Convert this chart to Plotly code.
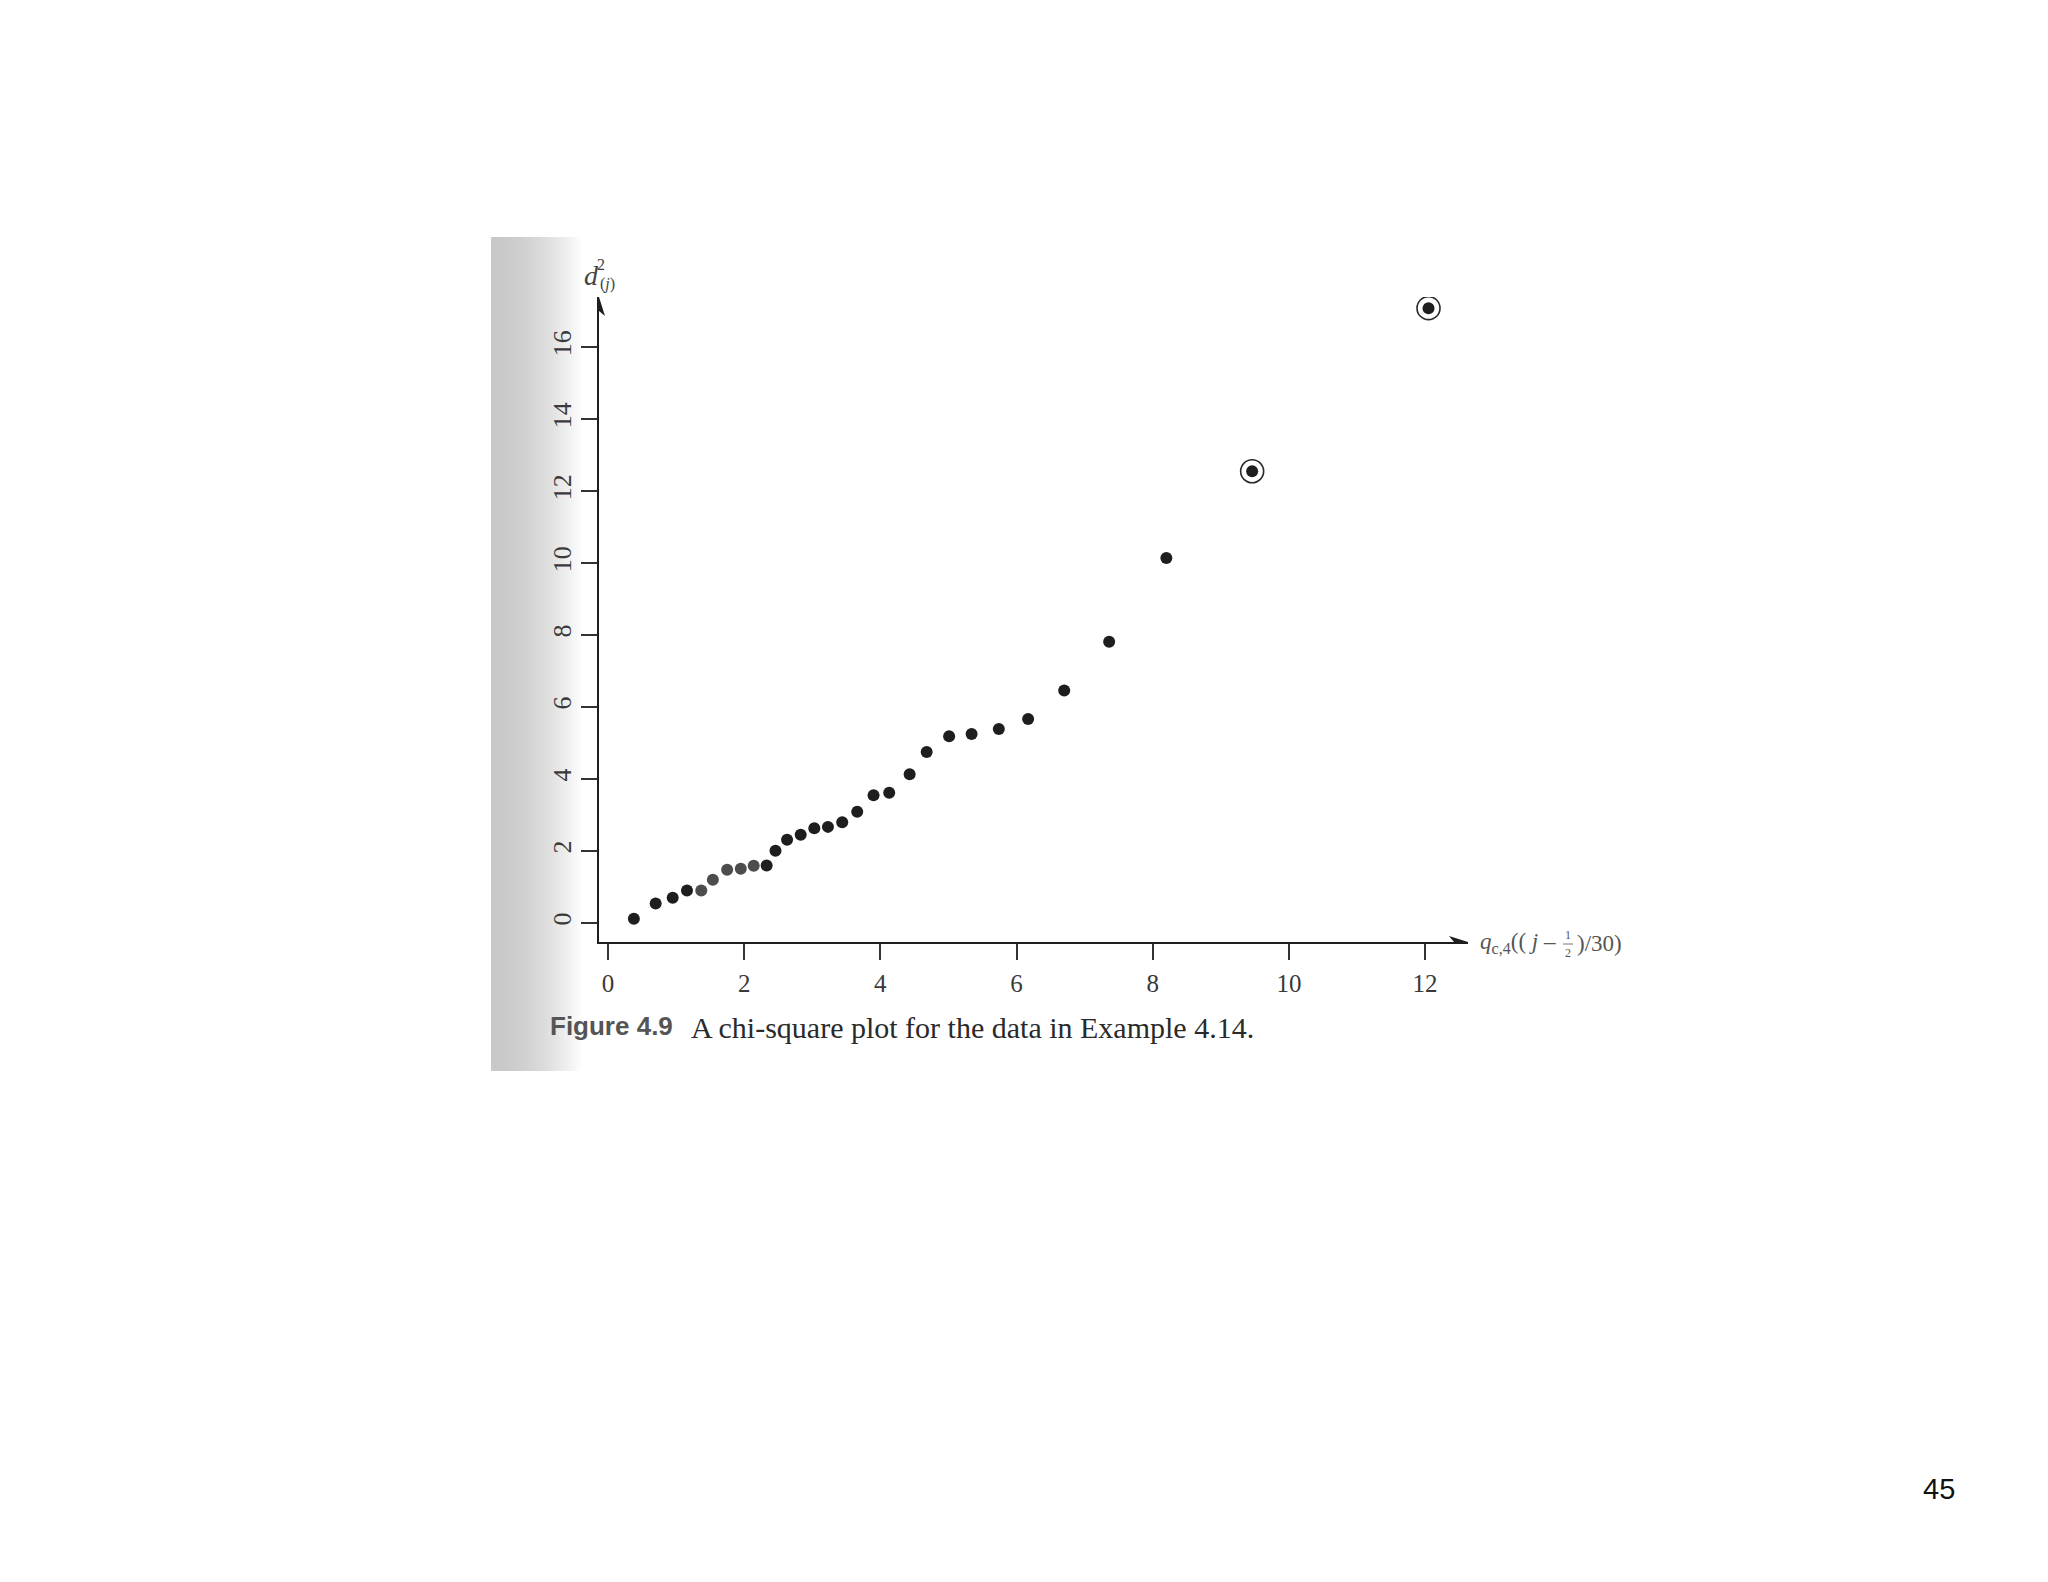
import plotly.graph_objects as go

# ---- data ----
q_quantiles = [0.38, 0.70, 0.95, 1.16, 1.37, 1.54, 1.75, 1.95, 2.14, 2.33,
               2.46, 2.63, 2.83, 3.03, 3.23, 3.44, 3.66, 3.90, 4.13, 4.43,
               4.68, 5.01, 5.34, 5.74, 6.17, 6.70, 7.36, 8.20, 9.46, 12.05]
d2_sorted = [0.12, 0.54, 0.70, 0.90, 0.90, 1.20, 1.48, 1.51, 1.59, 1.60,
             2.01, 2.31, 2.45, 2.63, 2.67, 2.80, 3.09, 3.55, 3.62, 4.13,
             4.75, 5.19, 5.25, 5.39, 5.67, 6.46, 7.81, 10.14, 12.55, 17.08]
outlier_idx = [28, 29]
x_ticks = [0, 2, 4, 6, 8, 10, 12]
y_ticks = [0, 2, 4, 6, 8, 10, 12, 14, 16]
caption_label = "Figure 4.9"
caption_text = "A chi-square plot for the data in Example 4.14."
page_number = "45"

W, H = 2048, 1582
def px(x):
    return x / W
def py(y):
    return 1 - y / H

SERIF = "Liberation Serif, Times New Roman, serif"
SANS = "Liberation Sans, Arial, sans-serif"

fig = go.Figure()

# scanned gutter shading on the left
band_x0, band_x1, band_y0, band_y1 = 491, 584, 237, 1071
n = 47
for i in range(n):
    t = i / (n - 1)
    g = int(round(200 + 55 * (t ** 1.8)))
    xa = band_x0 + (band_x1 - band_x0) * i / n
    xb = band_x0 + (band_x1 - band_x0) * (i + 1) / n + 0.6
    fig.add_shape(type="rect", xref="paper", yref="paper",
                  x0=px(xa), x1=px(xb), y0=py(band_y1), y1=py(band_y0),
                  line_width=0, fillcolor=f"rgb({g},{g},{g})", layer="below")

colors = ["#4d4d4d" if 1.3 <= x <= 2.2 else "#1e1e1e" for x in q_quantiles]
fig.add_trace(go.Scatter(x=q_quantiles, y=d2_sorted, mode="markers",
                         marker=dict(size=12, color=colors, line_width=0),
                         showlegend=False, hoverinfo="skip"))
fig.add_trace(go.Scatter(x=[q_quantiles[i] for i in outlier_idx],
                         y=[d2_sorted[i] for i in outlier_idx], mode="markers",
                         marker=dict(size=23, symbol="circle-open",
                                     color="#2a2a2a", line=dict(width=1.6, color="#2a2a2a")),
                         showlegend=False, hoverinfo="skip"))

# arrowheads on the axes
fig.add_shape(type="path", xref="x", yref="y", xsizemode="pixel", ysizemode="pixel",
              xanchor=12.63, yanchor=-0.528,
              path="M0,0 L-19,6 L-14,0 L-19,-6 Z", fillcolor="#1e1e1e", line_width=0)
fig.add_shape(type="path", xref="x", yref="y", xsizemode="pixel", ysizemode="pixel",
              xanchor=-0.132, yanchor=17.39,
              path="M0,0 L-6,-19 L0,-14 L6,-19 Z", fillcolor="#1e1e1e", line_width=0)

fig.update_layout(
    width=W, height=H, margin=dict(l=0, r=0, t=0, b=0),
    paper_bgcolor="white", plot_bgcolor="rgba(0,0,0,0)",
    xaxis=dict(domain=[px(599), px(1468)], range=[-0.132, 12.63],
               tickvals=x_ticks, ticktext=[str(v) for v in x_ticks],
               showgrid=False, zeroline=False, showline=True, linecolor="#1e1e1e",
               linewidth=2, ticks="outside", ticklen=16, tickwidth=1.6, tickcolor="#333",
               tickfont=dict(family=SERIF, size=25, color="#3a3a3a"), ticklabelstandoff=2),
    yaxis=dict(domain=[py(942), py(297)], range=[-0.528, 17.39],
               tickvals=y_ticks, ticktext=[str(v) for v in y_ticks],
               showgrid=False, zeroline=False, showline=True, linecolor="#1e1e1e",
               linewidth=2, ticks="outside", ticklen=16, tickwidth=1.6, tickcolor="#333",
               tickangle=-90,
               tickfont=dict(family=SERIF, size=26, color="#3a3a3a"), ticklabelstandoff=0),
)

ann = []
# y-axis label d^2_(j)
ann.append(dict(text="<i>d</i>", x=px(591), y=py(276), font=dict(family=SERIF, size=28, color="#444")))
ann.append(dict(text="2", x=px(601), y=py(264), font=dict(family=SERIF, size=16, color="#444")))
ann.append(dict(text="(<i>j</i>)", x=px(607), y=py(284), font=dict(family=SERIF, size=16, color="#444")))
# x-axis label q_{c,4}((j - 1/2)/30)
ann.append(dict(text="<i>q</i><sub>c,4</sub>((<i> j</i> –", x=px(1478), y=py(943), xanchor="left",
                font=dict(family=SERIF, size=23, color="#555")))
ann.append(dict(text="1", x=px(1568), y=py(935), font=dict(family=SERIF, size=12, color="#555")))
ann.append(dict(text="2", x=px(1568), y=py(953), font=dict(family=SERIF, size=12, color="#555")))
ann.append(dict(text=")/30)", x=px(1575), y=py(943), xanchor="left",
                font=dict(family=SERIF, size=23, color="#555")))
# caption
ann.append(dict(text=f"<b>{caption_label}</b>", x=px(548), y=py(1026), xanchor="left",
                font=dict(family=SANS, size=26, color="#555")))
ann.append(dict(text=caption_text, x=px(689), y=py(1027), xanchor="left",
                font=dict(family=SERIF, size=30, color="#2a2a2a")))
# page number
ann.append(dict(text=page_number, x=px(1939), y=py(1489),
                font=dict(family=SANS, size=29, color="#111")))
for a in ann:
    a.update(xref="paper", yref="paper", showarrow=False)
    a.setdefault("xanchor", "center")
    a.setdefault("yanchor", "middle")
    fig.add_annotation(**a)

fig.add_shape(type="line", xref="paper", yref="paper", x0=px(1563), x1=px(1573),
              y0=py(944), y1=py(944), line=dict(color="#777", width=1))

fig.write_html("out.html", config={"displayModeBar": False},
               post_script="document.body.style.margin='0';document.body.style.overflow='hidden';")
